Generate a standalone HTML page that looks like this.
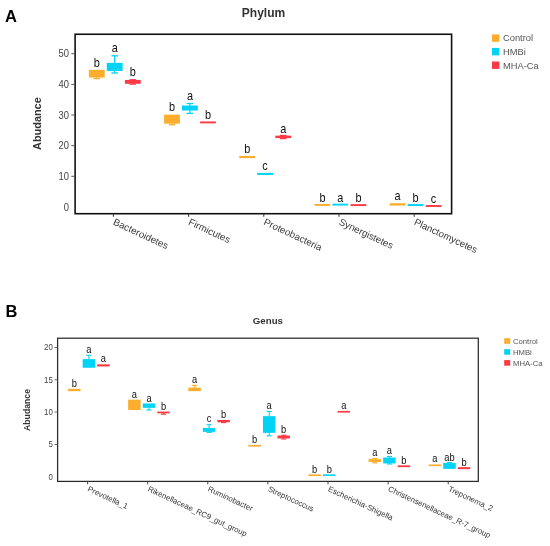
<!DOCTYPE html>
<html><head><meta charset="utf-8"><style>
html,body{margin:0;padding:0;background:#fff;}
svg{display:block;font-family:"Liberation Sans",sans-serif;will-change:transform;}
</style></head><body>
<svg width="550" height="546" viewBox="0 0 550 546">
<line x1="96.80" y1="77.20" x2="96.80" y2="78.60" stroke="#FBAD2B" stroke-width="1.3"/>
<line x1="93.50" y1="78.60" x2="100.10" y2="78.60" stroke="#FBAD2B" stroke-width="1.3"/>
<rect x="88.90" y="69.85" width="15.80" height="7.70" fill="#FBAD2B"/>
<text transform="translate(96.80,66.70) scale(0.94,1.13)" font-size="11.6" fill="#111" text-anchor="middle">b</text>
<line x1="114.70" y1="55.80" x2="114.70" y2="63.20" stroke="#00D3F6" stroke-width="1.3"/>
<line x1="111.40" y1="55.80" x2="118.00" y2="55.80" stroke="#00D3F6" stroke-width="1.3"/>
<line x1="114.70" y1="70.60" x2="114.70" y2="73.00" stroke="#00D3F6" stroke-width="1.3"/>
<line x1="111.40" y1="73.00" x2="118.00" y2="73.00" stroke="#00D3F6" stroke-width="1.3"/>
<rect x="106.80" y="62.85" width="15.80" height="8.10" fill="#00D3F6"/>
<text transform="translate(114.70,52.30) scale(0.94,1.13)" font-size="11.6" fill="#111" text-anchor="middle">a</text>
<line x1="132.80" y1="79.80" x2="132.80" y2="80.30" stroke="#FC3944" stroke-width="1.3"/>
<line x1="129.50" y1="79.80" x2="136.10" y2="79.80" stroke="#FC3944" stroke-width="1.3"/>
<line x1="132.80" y1="83.40" x2="132.80" y2="84.10" stroke="#FC3944" stroke-width="1.3"/>
<line x1="129.50" y1="84.10" x2="136.10" y2="84.10" stroke="#FC3944" stroke-width="1.3"/>
<rect x="124.90" y="79.95" width="15.80" height="3.80" fill="#FC3944"/>
<text transform="translate(132.80,76.30) scale(0.94,1.13)" font-size="11.6" fill="#111" text-anchor="middle">b</text>
<line x1="172.00" y1="123.30" x2="172.00" y2="124.80" stroke="#FBAD2B" stroke-width="1.3"/>
<line x1="168.70" y1="124.80" x2="175.30" y2="124.80" stroke="#FBAD2B" stroke-width="1.3"/>
<rect x="164.10" y="114.65" width="15.80" height="9.00" fill="#FBAD2B"/>
<text transform="translate(172.00,111.30) scale(0.94,1.13)" font-size="11.6" fill="#111" text-anchor="middle">b</text>
<line x1="189.90" y1="103.50" x2="189.90" y2="105.90" stroke="#00D3F6" stroke-width="1.3"/>
<line x1="186.60" y1="103.50" x2="193.20" y2="103.50" stroke="#00D3F6" stroke-width="1.3"/>
<line x1="189.90" y1="110.20" x2="189.90" y2="113.40" stroke="#00D3F6" stroke-width="1.3"/>
<line x1="186.60" y1="113.40" x2="193.20" y2="113.40" stroke="#00D3F6" stroke-width="1.3"/>
<rect x="182.00" y="105.55" width="15.80" height="5.00" fill="#00D3F6"/>
<text transform="translate(189.90,99.80) scale(0.94,1.13)" font-size="11.6" fill="#111" text-anchor="middle">a</text>
<rect x="200.10" y="121.45" width="15.80" height="1.90" fill="#FC3944"/>
<text transform="translate(208.00,118.80) scale(0.94,1.13)" font-size="11.6" fill="#111" text-anchor="middle">b</text>
<rect x="239.30" y="155.95" width="15.80" height="2.20" fill="#FBAD2B"/>
<text transform="translate(247.20,152.60) scale(0.94,1.13)" font-size="11.6" fill="#111" text-anchor="middle">b</text>
<rect x="257.20" y="172.85" width="15.80" height="2.10" fill="#00D3F6"/>
<text transform="translate(265.10,169.60) scale(0.94,1.13)" font-size="11.6" fill="#111" text-anchor="middle">c</text>
<line x1="283.20" y1="135.50" x2="283.20" y2="136.00" stroke="#FC3944" stroke-width="1.3"/>
<line x1="279.90" y1="135.50" x2="286.50" y2="135.50" stroke="#FC3944" stroke-width="1.3"/>
<line x1="283.20" y1="137.70" x2="283.20" y2="138.60" stroke="#FC3944" stroke-width="1.3"/>
<line x1="279.90" y1="138.60" x2="286.50" y2="138.60" stroke="#FC3944" stroke-width="1.3"/>
<rect x="275.30" y="135.65" width="15.80" height="2.40" fill="#FC3944"/>
<text transform="translate(283.20,132.60) scale(0.94,1.13)" font-size="11.6" fill="#111" text-anchor="middle">a</text>
<rect x="314.50" y="203.95" width="15.80" height="1.90" fill="#FBAD2B"/>
<text transform="translate(322.40,201.60) scale(0.94,1.13)" font-size="11.6" fill="#111" text-anchor="middle">b</text>
<rect x="332.40" y="203.65" width="15.80" height="1.90" fill="#00D3F6"/>
<text transform="translate(340.30,201.50) scale(0.94,1.13)" font-size="11.6" fill="#111" text-anchor="middle">a</text>
<rect x="350.50" y="204.15" width="15.80" height="1.90" fill="#FC3944"/>
<text transform="translate(358.40,201.60) scale(0.94,1.13)" font-size="11.6" fill="#111" text-anchor="middle">b</text>
<rect x="389.70" y="203.25" width="15.80" height="2.30" fill="#FBAD2B"/>
<text transform="translate(397.60,200.10) scale(0.94,1.13)" font-size="11.6" fill="#111" text-anchor="middle">a</text>
<rect x="407.60" y="204.05" width="15.80" height="2.00" fill="#00D3F6"/>
<text transform="translate(415.50,201.90) scale(0.94,1.13)" font-size="11.6" fill="#111" text-anchor="middle">b</text>
<rect x="425.70" y="205.05" width="15.80" height="1.90" fill="#FC3944"/>
<text transform="translate(433.60,202.70) scale(0.94,1.13)" font-size="11.6" fill="#111" text-anchor="middle">c</text>
<rect x="75.1" y="34.25" width="376.5" height="179.45" fill="none" stroke="#111" stroke-width="1.6"/>
<line x1="71.30" y1="53.70" x2="75.00" y2="53.70" stroke="#555" stroke-width="1.0"/>
<text transform="translate(69.0,57.30) scale(0.95,1.1)" font-size="9.9" fill="#444" text-anchor="end">50</text>
<line x1="71.30" y1="84.40" x2="75.00" y2="84.40" stroke="#555" stroke-width="1.0"/>
<text transform="translate(69.0,88.00) scale(0.95,1.1)" font-size="9.9" fill="#444" text-anchor="end">40</text>
<line x1="71.30" y1="115.00" x2="75.00" y2="115.00" stroke="#555" stroke-width="1.0"/>
<text transform="translate(69.0,118.60) scale(0.95,1.1)" font-size="9.9" fill="#444" text-anchor="end">30</text>
<line x1="71.30" y1="145.70" x2="75.00" y2="145.70" stroke="#555" stroke-width="1.0"/>
<text transform="translate(69.0,149.30) scale(0.95,1.1)" font-size="9.9" fill="#444" text-anchor="end">20</text>
<line x1="71.30" y1="176.30" x2="75.00" y2="176.30" stroke="#555" stroke-width="1.0"/>
<text transform="translate(69.0,179.90) scale(0.95,1.1)" font-size="9.9" fill="#444" text-anchor="end">10</text>
<text transform="translate(69.0,210.60) scale(0.95,1.1)" font-size="9.9" fill="#444" text-anchor="end">0</text>
<line x1="113.40" y1="213.70" x2="113.40" y2="216.80" stroke="#333" stroke-width="1.0"/>
<line x1="188.60" y1="213.70" x2="188.60" y2="216.80" stroke="#333" stroke-width="1.0"/>
<line x1="263.80" y1="213.70" x2="263.80" y2="216.80" stroke="#333" stroke-width="1.0"/>
<line x1="339.00" y1="213.70" x2="339.00" y2="216.80" stroke="#333" stroke-width="1.0"/>
<line x1="414.20" y1="213.70" x2="414.20" y2="216.80" stroke="#333" stroke-width="1.0"/>
<text transform="translate(112.60,224.30) rotate(25)" font-size="9.7" fill="#3a3a3a">Bacteroidetes</text>
<text transform="translate(187.80,224.30) rotate(25)" font-size="9.7" fill="#3a3a3a">Firmicutes</text>
<text transform="translate(263.00,224.30) rotate(25)" font-size="9.7" fill="#3a3a3a">Proteobacteria</text>
<text transform="translate(338.20,224.30) rotate(25)" font-size="9.7" fill="#3a3a3a">Synergistetes</text>
<text transform="translate(413.40,224.30) rotate(25)" font-size="9.7" fill="#3a3a3a">Planctomycetes</text>
<text x="263.50" y="16.90" font-size="12" fill="#333" text-anchor="middle" font-weight="bold" >Phylum</text>
<text transform="translate(40.6,123.6) rotate(-90)" font-size="10.9" fill="#333" font-weight="bold" text-anchor="middle">Abudance</text>
<text x="5.00" y="22.00" font-size="16.5" fill="#000" text-anchor="start" font-weight="bold" >A</text>
<rect x="492.00" y="34.40" width="7.40" height="7.40" fill="#FBAD2B"/>
<text x="503.00" y="41.40" font-size="9.3" fill="#555" text-anchor="start" font-weight="normal" >Control</text>
<rect x="492.00" y="47.95" width="7.40" height="7.40" fill="#00D3F6"/>
<text x="503.00" y="54.95" font-size="9.3" fill="#555" text-anchor="start" font-weight="normal" >HMBi</text>
<rect x="492.00" y="61.50" width="7.40" height="7.40" fill="#FC3944"/>
<text x="503.00" y="68.50" font-size="9.3" fill="#555" text-anchor="start" font-weight="normal" >MHA-Ca</text>
<rect x="68.05" y="388.85" width="12.50" height="2.30" fill="#FBAD2B"/>
<text transform="translate(74.30,386.50) scale(0.96,1.06)" font-size="9.7" fill="#111" text-anchor="middle">b</text>
<line x1="88.90" y1="355.30" x2="88.90" y2="359.50" stroke="#00D3F6" stroke-width="1.1"/>
<line x1="86.30" y1="355.30" x2="91.50" y2="355.30" stroke="#00D3F6" stroke-width="1.1"/>
<rect x="82.65" y="359.15" width="12.50" height="8.60" fill="#00D3F6"/>
<text transform="translate(88.90,352.90) scale(0.96,1.06)" font-size="9.7" fill="#111" text-anchor="middle">a</text>
<rect x="97.15" y="364.35" width="12.50" height="2.10" fill="#FC3944"/>
<text transform="translate(103.40,362.10) scale(0.96,1.06)" font-size="9.7" fill="#111" text-anchor="middle">a</text>
<rect x="128.15" y="399.65" width="12.50" height="10.30" fill="#FBAD2B"/>
<text transform="translate(134.40,397.80) scale(0.96,1.06)" font-size="9.7" fill="#111" text-anchor="middle">a</text>
<line x1="149.00" y1="407.50" x2="149.00" y2="410.00" stroke="#00D3F6" stroke-width="1.1"/>
<line x1="146.40" y1="410.00" x2="151.60" y2="410.00" stroke="#00D3F6" stroke-width="1.1"/>
<rect x="142.75" y="403.45" width="12.50" height="4.40" fill="#00D3F6"/>
<text transform="translate(149.00,401.60) scale(0.96,1.06)" font-size="9.7" fill="#111" text-anchor="middle">a</text>
<line x1="163.50" y1="413.00" x2="163.50" y2="414.20" stroke="#FC3944" stroke-width="1.1"/>
<line x1="160.90" y1="414.20" x2="166.10" y2="414.20" stroke="#FC3944" stroke-width="1.1"/>
<rect x="157.25" y="411.55" width="12.50" height="1.80" fill="#FC3944"/>
<text transform="translate(163.50,409.80) scale(0.96,1.06)" font-size="9.7" fill="#111" text-anchor="middle">b</text>
<line x1="194.50" y1="385.30" x2="194.50" y2="388.00" stroke="#FBAD2B" stroke-width="1.1"/>
<line x1="191.90" y1="385.30" x2="197.10" y2="385.30" stroke="#FBAD2B" stroke-width="1.1"/>
<rect x="188.25" y="387.65" width="12.50" height="3.50" fill="#FBAD2B"/>
<text transform="translate(194.50,382.90) scale(0.96,1.06)" font-size="9.7" fill="#111" text-anchor="middle">a</text>
<line x1="209.10" y1="424.70" x2="209.10" y2="428.30" stroke="#00D3F6" stroke-width="1.1"/>
<line x1="206.50" y1="424.70" x2="211.70" y2="424.70" stroke="#00D3F6" stroke-width="1.1"/>
<line x1="209.10" y1="431.50" x2="209.10" y2="432.40" stroke="#00D3F6" stroke-width="1.1"/>
<line x1="206.50" y1="432.40" x2="211.70" y2="432.40" stroke="#00D3F6" stroke-width="1.1"/>
<rect x="202.85" y="427.95" width="12.50" height="3.90" fill="#00D3F6"/>
<text transform="translate(209.10,421.80) scale(0.96,1.06)" font-size="9.7" fill="#111" text-anchor="middle">c</text>
<line x1="223.60" y1="421.90" x2="223.60" y2="422.60" stroke="#FC3944" stroke-width="1.1"/>
<line x1="221.00" y1="422.60" x2="226.20" y2="422.60" stroke="#FC3944" stroke-width="1.1"/>
<rect x="217.35" y="419.95" width="12.50" height="2.30" fill="#FC3944"/>
<text transform="translate(223.60,417.80) scale(0.96,1.06)" font-size="9.7" fill="#111" text-anchor="middle">b</text>
<rect x="248.35" y="444.90" width="12.50" height="1.70" fill="#FBAD2B"/>
<text transform="translate(254.60,442.60) scale(0.96,1.06)" font-size="9.7" fill="#111" text-anchor="middle">b</text>
<line x1="269.20" y1="411.40" x2="269.20" y2="416.50" stroke="#00D3F6" stroke-width="1.1"/>
<line x1="266.60" y1="411.40" x2="271.80" y2="411.40" stroke="#00D3F6" stroke-width="1.1"/>
<line x1="269.20" y1="432.50" x2="269.20" y2="435.80" stroke="#00D3F6" stroke-width="1.1"/>
<line x1="266.60" y1="435.80" x2="271.80" y2="435.80" stroke="#00D3F6" stroke-width="1.1"/>
<rect x="262.95" y="416.15" width="12.50" height="16.70" fill="#00D3F6"/>
<text transform="translate(269.20,409.00) scale(0.96,1.06)" font-size="9.7" fill="#111" text-anchor="middle">a</text>
<line x1="283.70" y1="435.20" x2="283.70" y2="435.90" stroke="#FC3944" stroke-width="1.1"/>
<line x1="281.10" y1="435.20" x2="286.30" y2="435.20" stroke="#FC3944" stroke-width="1.1"/>
<line x1="283.70" y1="438.10" x2="283.70" y2="439.00" stroke="#FC3944" stroke-width="1.1"/>
<line x1="281.10" y1="439.00" x2="286.30" y2="439.00" stroke="#FC3944" stroke-width="1.1"/>
<rect x="277.45" y="435.55" width="12.50" height="2.90" fill="#FC3944"/>
<text transform="translate(283.70,432.60) scale(0.96,1.06)" font-size="9.7" fill="#111" text-anchor="middle">b</text>
<rect x="308.45" y="474.35" width="12.50" height="1.70" fill="#FBAD2B"/>
<text transform="translate(314.70,472.80) scale(0.96,1.06)" font-size="9.7" fill="#111" text-anchor="middle">b</text>
<rect x="323.05" y="474.35" width="12.50" height="1.70" fill="#00D3F6"/>
<text transform="translate(329.30,472.80) scale(0.96,1.06)" font-size="9.7" fill="#111" text-anchor="middle">b</text>
<rect x="337.55" y="410.90" width="12.50" height="1.70" fill="#FC3944"/>
<text transform="translate(343.80,409.30) scale(0.96,1.06)" font-size="9.7" fill="#111" text-anchor="middle">a</text>
<line x1="374.80" y1="458.50" x2="374.80" y2="459.50" stroke="#FBAD2B" stroke-width="1.1"/>
<line x1="372.20" y1="458.50" x2="377.40" y2="458.50" stroke="#FBAD2B" stroke-width="1.1"/>
<line x1="374.80" y1="461.60" x2="374.80" y2="462.90" stroke="#FBAD2B" stroke-width="1.1"/>
<line x1="372.20" y1="462.90" x2="377.40" y2="462.90" stroke="#FBAD2B" stroke-width="1.1"/>
<rect x="368.55" y="459.15" width="12.50" height="2.80" fill="#FBAD2B"/>
<text transform="translate(374.80,456.10) scale(0.96,1.06)" font-size="9.7" fill="#111" text-anchor="middle">a</text>
<line x1="389.40" y1="456.40" x2="389.40" y2="457.90" stroke="#00D3F6" stroke-width="1.1"/>
<line x1="386.80" y1="456.40" x2="392.00" y2="456.40" stroke="#00D3F6" stroke-width="1.1"/>
<line x1="389.40" y1="463.10" x2="389.40" y2="464.00" stroke="#00D3F6" stroke-width="1.1"/>
<line x1="386.80" y1="464.00" x2="392.00" y2="464.00" stroke="#00D3F6" stroke-width="1.1"/>
<rect x="383.15" y="457.55" width="12.50" height="5.90" fill="#00D3F6"/>
<text transform="translate(389.40,454.30) scale(0.96,1.06)" font-size="9.7" fill="#111" text-anchor="middle">a</text>
<rect x="397.65" y="465.35" width="12.50" height="1.80" fill="#FC3944"/>
<text transform="translate(403.90,463.80) scale(0.96,1.06)" font-size="9.7" fill="#111" text-anchor="middle">b</text>
<rect x="428.65" y="464.45" width="12.50" height="1.70" fill="#FBAD2B"/>
<text transform="translate(434.90,462.10) scale(0.96,1.06)" font-size="9.7" fill="#111" text-anchor="middle">a</text>
<line x1="449.50" y1="462.50" x2="449.50" y2="463.40" stroke="#00D3F6" stroke-width="1.1"/>
<line x1="446.90" y1="462.50" x2="452.10" y2="462.50" stroke="#00D3F6" stroke-width="1.1"/>
<rect x="443.25" y="463.05" width="12.50" height="5.80" fill="#00D3F6"/>
<text transform="translate(449.50,460.70) scale(0.96,1.06)" font-size="9.7" fill="#111" text-anchor="middle">ab</text>
<rect x="457.75" y="467.15" width="12.50" height="2.00" fill="#FC3944"/>
<text transform="translate(464.00,465.60) scale(0.96,1.06)" font-size="9.7" fill="#111" text-anchor="middle">b</text>
<rect x="57.6" y="338.2" width="420.70" height="143.20" fill="none" stroke="#2a2a2a" stroke-width="1.25"/>
<line x1="54.60" y1="347.50" x2="57.60" y2="347.50" stroke="#555" stroke-width="0.9"/>
<text transform="translate(52.8,350.40) scale(0.95,1.12)" font-size="8.3" fill="#444" text-anchor="end">20</text>
<line x1="54.60" y1="379.80" x2="57.60" y2="379.80" stroke="#555" stroke-width="0.9"/>
<text transform="translate(52.8,382.70) scale(0.95,1.12)" font-size="8.3" fill="#444" text-anchor="end">15</text>
<line x1="54.60" y1="412.10" x2="57.60" y2="412.10" stroke="#555" stroke-width="0.9"/>
<text transform="translate(52.8,415.00) scale(0.95,1.12)" font-size="8.3" fill="#444" text-anchor="end">10</text>
<line x1="54.60" y1="444.50" x2="57.60" y2="444.50" stroke="#555" stroke-width="0.9"/>
<text transform="translate(52.8,447.40) scale(0.95,1.12)" font-size="8.3" fill="#444" text-anchor="end">5</text>
<text transform="translate(52.8,479.70) scale(0.95,1.12)" font-size="8.3" fill="#444" text-anchor="end">0</text>
<line x1="87.60" y1="481.40" x2="87.60" y2="484.40" stroke="#333" stroke-width="0.9"/>
<line x1="147.70" y1="481.40" x2="147.70" y2="484.40" stroke="#333" stroke-width="0.9"/>
<line x1="207.80" y1="481.40" x2="207.80" y2="484.40" stroke="#333" stroke-width="0.9"/>
<line x1="267.90" y1="481.40" x2="267.90" y2="484.40" stroke="#333" stroke-width="0.9"/>
<line x1="328.00" y1="481.40" x2="328.00" y2="484.40" stroke="#333" stroke-width="0.9"/>
<line x1="388.10" y1="481.40" x2="388.10" y2="484.40" stroke="#333" stroke-width="0.9"/>
<line x1="448.20" y1="481.40" x2="448.20" y2="484.40" stroke="#333" stroke-width="0.9"/>
<text transform="translate(87.10,490.80) rotate(25)" font-size="7.8" fill="#333">Prevotella_1</text>
<text transform="translate(147.20,490.80) rotate(25)" font-size="7.8" fill="#333">Rikenellaceae_RC9_gut_group</text>
<text transform="translate(207.30,490.80) rotate(25)" font-size="7.8" fill="#333">Ruminobacter</text>
<text transform="translate(267.40,490.80) rotate(25)" font-size="7.8" fill="#333">Streptococcus</text>
<text transform="translate(327.50,490.80) rotate(25)" font-size="7.8" fill="#333">Escherichia-Shigella</text>
<text transform="translate(387.60,490.80) rotate(25)" font-size="7.8" fill="#333">Christensenellaceae_R-7_group</text>
<text transform="translate(447.70,490.80) rotate(25)" font-size="7.8" fill="#333">Treponema_2</text>
<text x="267.90" y="324.30" font-size="9.7" fill="#333" text-anchor="middle" font-weight="bold" >Genus</text>
<text transform="translate(30.0,410.0) rotate(-90)" font-size="8.7" fill="#333" font-weight="bold" text-anchor="middle">Abudance</text>
<text x="5.50" y="316.50" font-size="16.5" fill="#000" text-anchor="start" font-weight="bold" >B</text>
<rect x="504.20" y="338.20" width="6.00" height="5.60" fill="#FBAD2B"/>
<text x="513.00" y="343.80" font-size="7.7" fill="#555" text-anchor="start" font-weight="normal" >Control</text>
<rect x="504.20" y="349.15" width="6.00" height="5.60" fill="#00D3F6"/>
<text x="513.00" y="354.75" font-size="7.7" fill="#555" text-anchor="start" font-weight="normal" >HMBi</text>
<rect x="504.20" y="360.10" width="6.00" height="5.60" fill="#FC3944"/>
<text x="513.00" y="365.70" font-size="7.7" fill="#555" text-anchor="start" font-weight="normal" >MHA-Ca</text>
</svg>
</body></html>
